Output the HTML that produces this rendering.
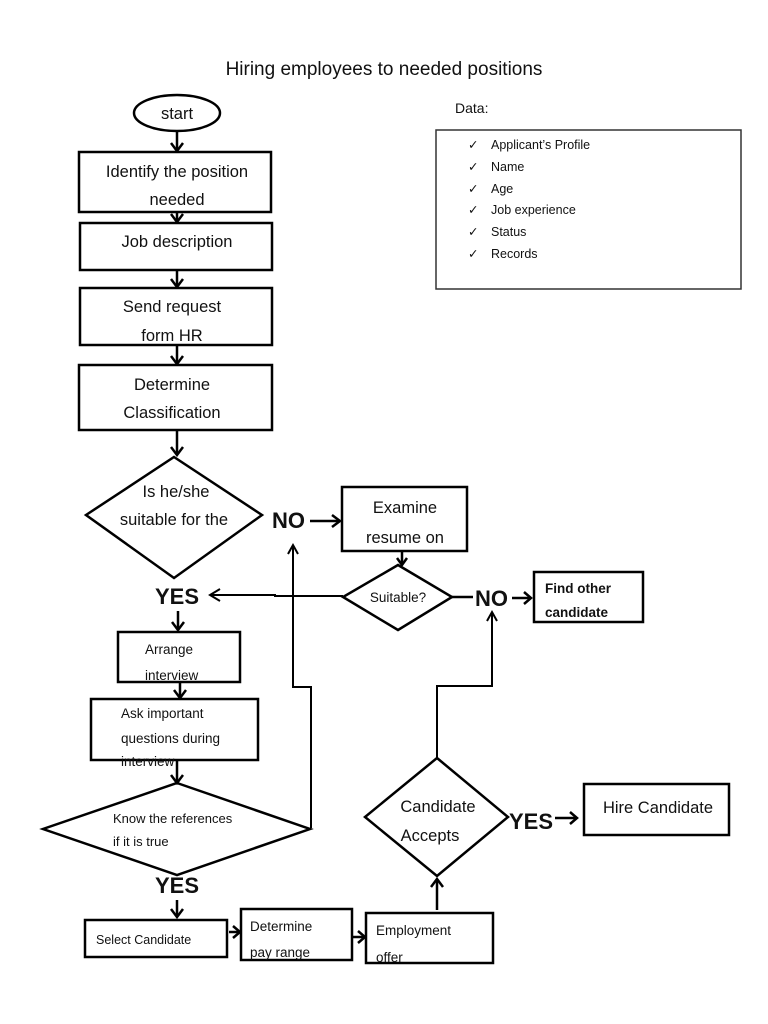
<!DOCTYPE html>
<html><head><meta charset="utf-8"><style>
html,body{margin:0;padding:0;background:#fff;width:768px;height:1024px;overflow:hidden}
svg{display:block}
text{font-family:"Liberation Sans",sans-serif;fill:#111}
</style></head><body>
<svg width="768" height="1024" viewBox="0 0 768 1024" xmlns="http://www.w3.org/2000/svg">
<g fill="none" stroke="#000" stroke-width="2.5">
<ellipse cx="177" cy="113" rx="43" ry="18"/>
<line x1="177" y1="131" x2="177" y2="151"/><polyline points="171,143 177,151 183,143"/>
<rect x="79" y="152" width="192" height="60"/>
<line x1="177" y1="212" x2="177" y2="222"/><polyline points="171,214 177,222 183,214"/>
<rect x="80" y="223" width="192" height="47"/>
<line x1="177" y1="270" x2="177" y2="287"/><polyline points="171,279 177,287 183,279"/>
<rect x="80" y="288" width="192" height="57"/>
<line x1="177" y1="345" x2="177" y2="364"/><polyline points="171,356 177,364 183,356"/>
<rect x="79" y="365" width="193" height="65"/>
<line x1="177" y1="430" x2="177" y2="455"/><polyline points="171,447 177,455 183,447"/>
<polygon points="174,457 262,515 174,578 86,515"/>
<line x1="310" y1="521" x2="340" y2="521"/><polyline points="332,515 340,521 332,527"/>
<rect x="342" y="487" width="125" height="64"/>
<line x1="402" y1="551" x2="402" y2="565"/><polyline points="397,558 402,565 407,558"/>
<polygon points="398,565 452,597 398,630 343,597"/>
<polyline stroke-width="2" points="343,596 275,596 275,595 210,595"/>
<polyline stroke-width="2" points="220,589 210,595 220,601"/>
<line x1="452" y1="597" x2="473" y2="597"/>
<line x1="512" y1="598" x2="530" y2="598"/><polyline points="524,592 531,598 524,604"/>
<rect x="534" y="572" width="109" height="50"/>
<polyline stroke-width="2" points="293,546 293,687 311,687 311,828"/>
<polyline stroke-width="2" points="288,554 293,545 298,554"/>
<line x1="178" y1="611" x2="178" y2="630"/><polyline points="172,622 178,630 184,622"/>
<rect x="118" y="632" width="122" height="50"/>
<line x1="180" y1="682" x2="180" y2="698"/><polyline points="174,690 180,698 186,690"/>
<rect x="91" y="699" width="167" height="61"/>
<line x1="177" y1="760" x2="177" y2="783"/><polyline points="171,775 177,783 183,775"/>
<polygon points="177,783 310,829 177,875 43,829"/>
<line x1="177" y1="900" x2="177" y2="917"/><polyline points="171,909 177,917 183,909"/>
<rect x="85" y="920" width="142" height="37"/>
<line x1="229" y1="932" x2="239" y2="932"/><polyline points="233,926 240,932 233,938"/>
<rect x="241" y="909" width="111" height="51"/>
<line x1="353" y1="937" x2="364" y2="937"/><polyline points="358,931 365,937 358,943"/>
<rect x="366" y="913" width="127" height="50"/>
<line x1="437" y1="910" x2="437" y2="879"/><polyline points="431,887 437,879 443,887"/>
<polygon points="437,758 508,817 437,876 365,817"/>
<polyline stroke-width="2" points="437,758 437,686 492,686 492,613"/>
<polyline stroke-width="2" points="487,621 492,612 497,621"/>
<line x1="555" y1="818" x2="576" y2="818"/><polyline points="570,812 577,818 570,824"/>
<rect x="584" y="784" width="145" height="51"/>
</g>
<rect x="436" y="130" width="305" height="159" fill="none" stroke="#333" stroke-width="1.5"/>
<text x="384" y="75" font-size="19" text-anchor="middle">Hiring employees to needed positions</text>
<text x="455" y="113" font-size="14">Data:</text>
<g font-size="12.5">
<text x="468" y="149">✓</text><text x="491" y="149">Applicant’s Profile</text>
<text x="468" y="171">✓</text><text x="491" y="171">Name</text>
<text x="468" y="193">✓</text><text x="491" y="193">Age</text>
<text x="468" y="214">✓</text><text x="491" y="214">Job experience</text>
<text x="468" y="236">✓</text><text x="491" y="236">Status</text>
<text x="468" y="258">✓</text><text x="491" y="258">Records</text>
</g>
<g font-size="16.5" text-anchor="middle">
<text x="177" y="119">start</text>
<text x="177" y="177">Identify the position</text>
<text x="177" y="205">needed</text>
<text x="177" y="247">Job description</text>
<text x="172" y="312">Send request</text>
<text x="172" y="341">form HR</text>
<text x="172" y="390">Determine</text>
<text x="172" y="418">Classification</text>
<text x="176" y="497">Is he/she</text>
<text x="174" y="525">suitable for the</text>
<text x="405" y="513">Examine</text>
<text x="405" y="543">resume on</text>
<text x="658" y="813">Hire Candidate</text>
<text x="438" y="812">Candidate</text>
<text x="430" y="841">Accepts</text>
</g>
<g font-size="13.5">
<text x="398" y="602" text-anchor="middle">Suitable?</text>
<text x="545" y="593" font-weight="bold" fill="#222">Find other</text>
<text x="545" y="617" font-weight="bold" fill="#222">candidate</text>
<text x="145" y="654">Arrange</text>
<text x="145" y="680">interview</text>
<text x="121" y="718">Ask important</text>
<text x="121" y="743">questions during</text>
<text x="121" y="766">interview</text>
<text x="113" y="823" font-size="13">Know the references</text>
<text x="113" y="846" font-size="13">if it is true</text>
<text x="96" y="944" font-size="12.5">Select Candidate</text>
<text x="250" y="931">Determine</text>
<text x="250" y="957">pay range</text>
<text x="376" y="935">Employment</text>
<text x="376" y="962">offer</text>
</g>
<g font-weight="bold" font-size="22">
<text x="272" y="528">NO</text>
<text x="475" y="606">NO</text>
<text x="155" y="604">YES</text>
<text x="155" y="893">YES</text>
<text x="509" y="829">YES</text>
</g>
</svg>
</body></html>
